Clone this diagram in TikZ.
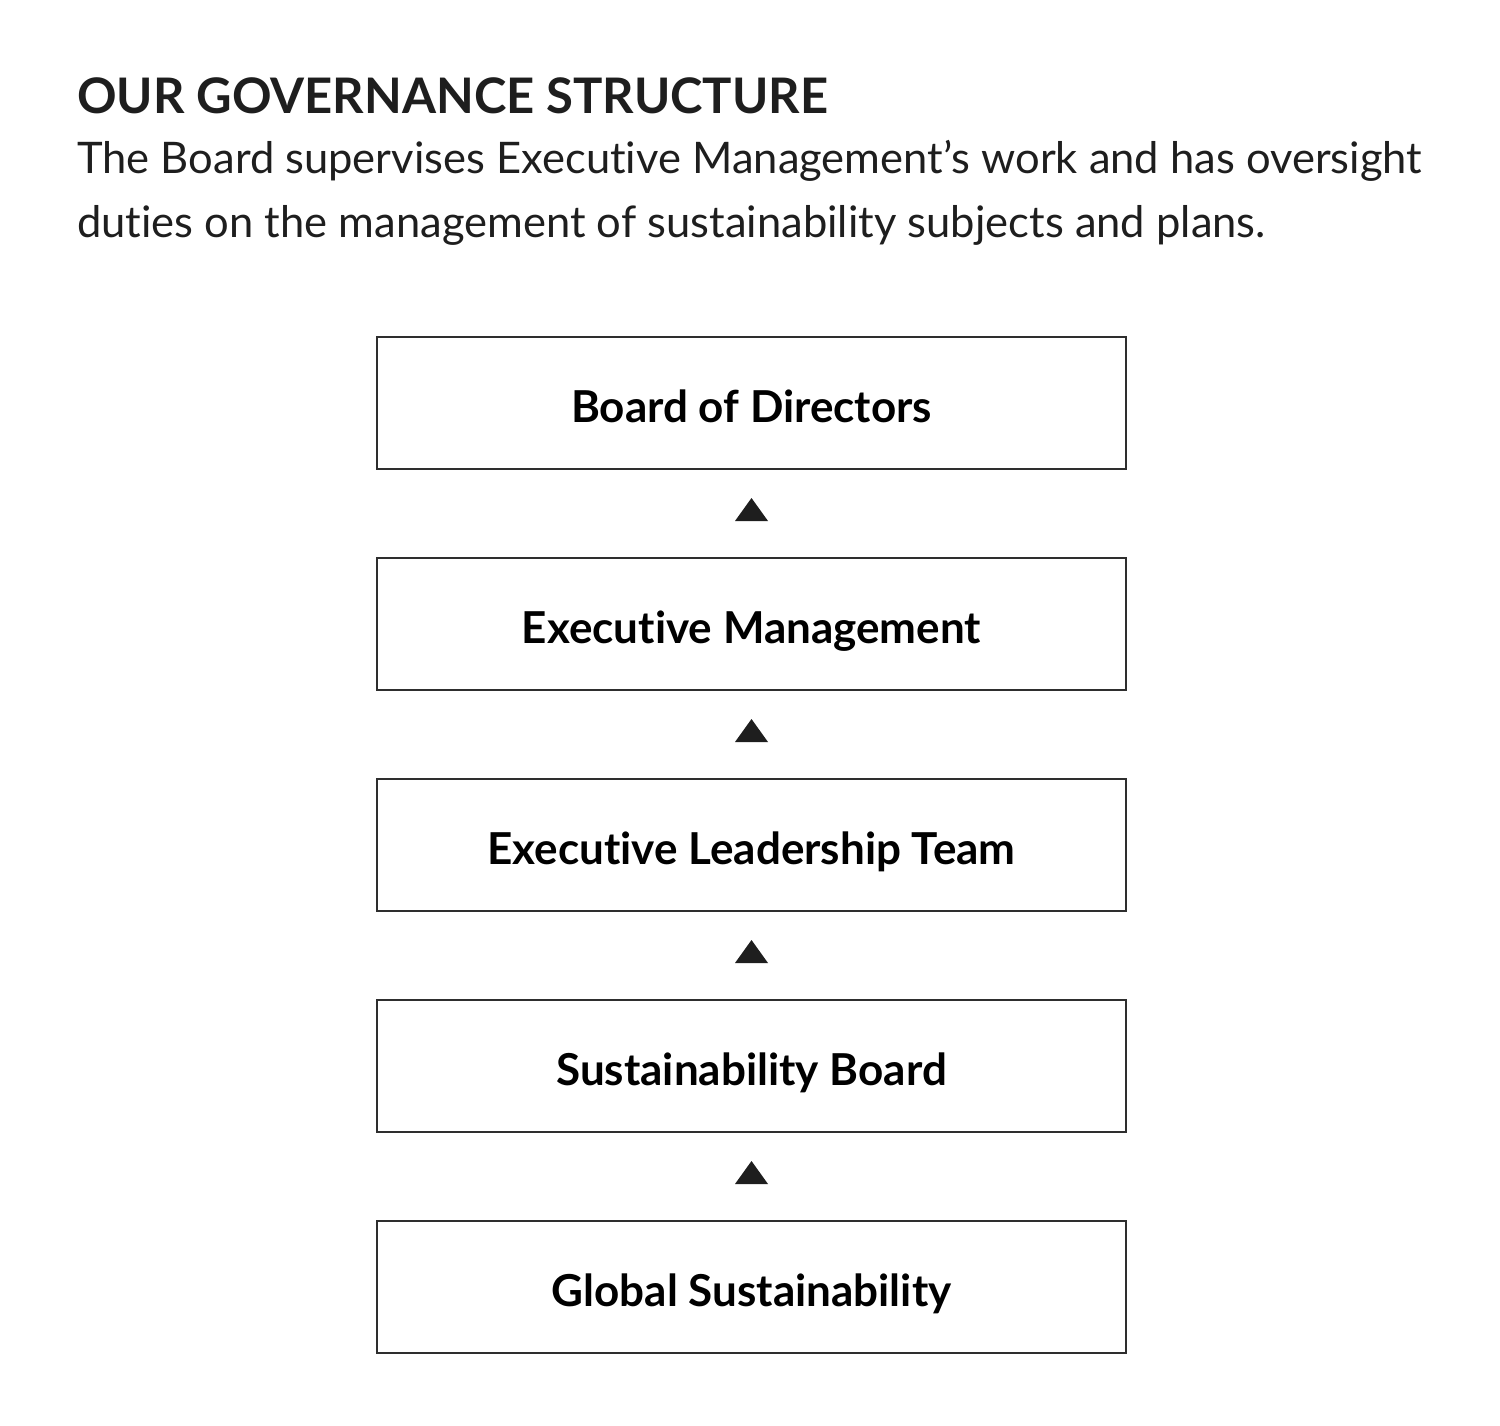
\documentclass[tikz,border=0pt]{standalone}
\usepackage{fontspec}
\setmainfont[Ligatures=NoCommon]{Lato}
\usepackage{tikz}
\usetikzlibrary{positioning, calc}

\definecolor{inkdark}{HTML}{1E1E1E}
\definecolor{framegray}{HTML}{2E2E2E}

\tikzset{
  govbox/.style={draw=framegray, line width=2pt, minimum width=749pt, minimum height=132pt,
    inner sep=0pt, text height=38pt, text depth=0pt,
    font=\fontsize{44}{52}\selectfont\bfseries, text=black},
  uptri/.style={fill=inkdark, draw=none},
}

\begin{document}
\begin{tikzpicture}[x=1pt, y=-1pt]
\useasboundingbox (0,0) rectangle (1500,1426);

% --- Heading ---
\node[anchor=base west, inner sep=0pt, text=inkdark, font=\fontsize{49}{58}\selectfont\bfseries] (title) at (77,114) {OUR GOVERNANCE STRUCTURE};
\node[anchor=base west, inner sep=0pt, text=inkdark, font=\fontsize{43.5}{63}\selectfont] (intro1) at (77,174) {The Board supervises Executive Management’s work and has oversight};
\node[anchor=base west, inner sep=0pt, text=inkdark, font=\fontsize{43.5}{63}\selectfont] (intro2) at (77,237) {duties on the management of sustainability subjects and plans.};

% --- Boxes ---
\node[govbox] (bod) at (751.5,403) {Board of Directors};
\node[govbox] (em)  at (751.5,624) {Executive Management};
\node[govbox] (elt) at (751.5,845) {Executive Leadership Team};
\node[govbox] (sb)  at (751.5,1066) {Sustainability Board};
\node[govbox] (gs)  at (751.5,1287) {Global Sustainability};

% --- Arrow heads ---
\foreach \lo/\hi in {em/bod, elt/em, sb/elt, gs/sb}{
  \fill[uptri] ($(\hi.south)!0.5!(\lo.north)$) ++(0,-4) +(-16.5,11.5) -- +(16.5,11.5) -- +(0,-11.5) -- cycle;
}
\end{tikzpicture}
\end{document}
